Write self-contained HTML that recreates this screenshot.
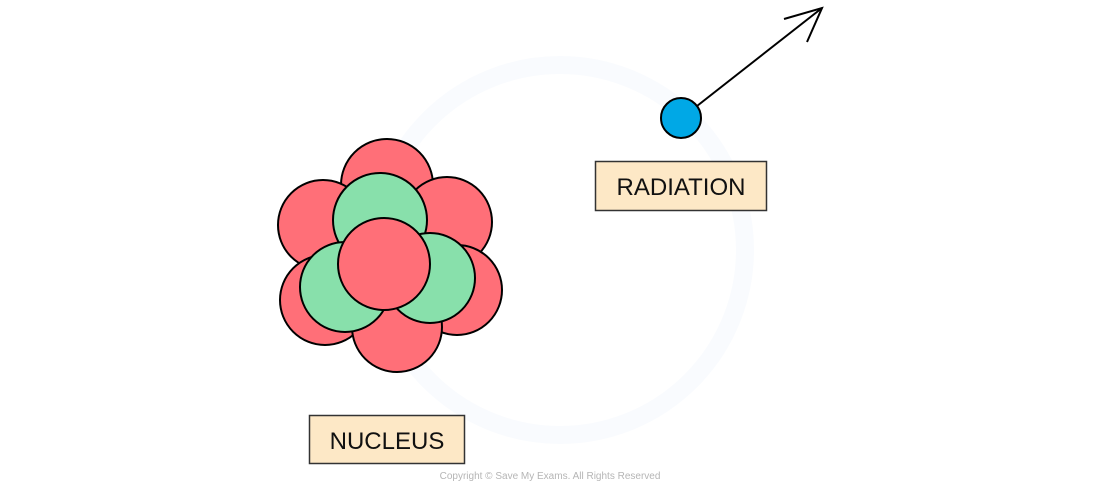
<!DOCTYPE html>
<html><head><style>
body{margin:0;width:1100px;height:484px;background:#fff;overflow:hidden;font-family:"Liberation Sans",sans-serif;}
</style></head><body>
<svg width="1100" height="484" viewBox="0 0 1100 484" xmlns="http://www.w3.org/2000/svg">
<circle cx="560" cy="250" r="185" fill="none" stroke="#f9fbfe" stroke-width="18"/>
<g stroke="#000" stroke-width="2">
<circle cx="387" cy="185" r="46" fill="#ff6f78"/>
<circle cx="323" cy="225" r="45" fill="#ff6f78"/>
<circle cx="447" cy="222" r="45" fill="#ff6f78"/>
<circle cx="325" cy="300" r="45" fill="#ff6f78"/>
<circle cx="457" cy="290" r="45" fill="#ff6f78"/>
<circle cx="397" cy="327" r="45" fill="#ff6f78"/>
<circle cx="380" cy="220" r="47" fill="#88e0ab"/>
<circle cx="345" cy="287" r="45" fill="#88e0ab"/>
<circle cx="430" cy="278" r="45" fill="#88e0ab"/>
<circle cx="384" cy="264" r="46" fill="#ff6f78"/>
<line x1="697" y1="106" x2="822" y2="8" fill="none"/>
<polyline points="784,19 822,8 807,42" fill="none"/>
<circle cx="681" cy="118" r="20" fill="#00a8e6"/>
</g>
<rect x="595.5" y="161.5" width="171" height="49" fill="#fde8c6" stroke="#333" stroke-width="1.5"/>
<text x="681" y="195" text-anchor="middle" font-size="24" fill="#111">RADIATION</text>
<rect x="309.5" y="415.5" width="155" height="48" fill="#fde8c6" stroke="#333" stroke-width="1.5"/>
<text x="387" y="449" text-anchor="middle" font-size="24" fill="#111">NUCLEUS</text>
<text x="550" y="479" text-anchor="middle" font-size="10" fill="#b5b5b5">Copyright © Save My Exams. All Rights Reserved</text>
</svg>
</body></html>
